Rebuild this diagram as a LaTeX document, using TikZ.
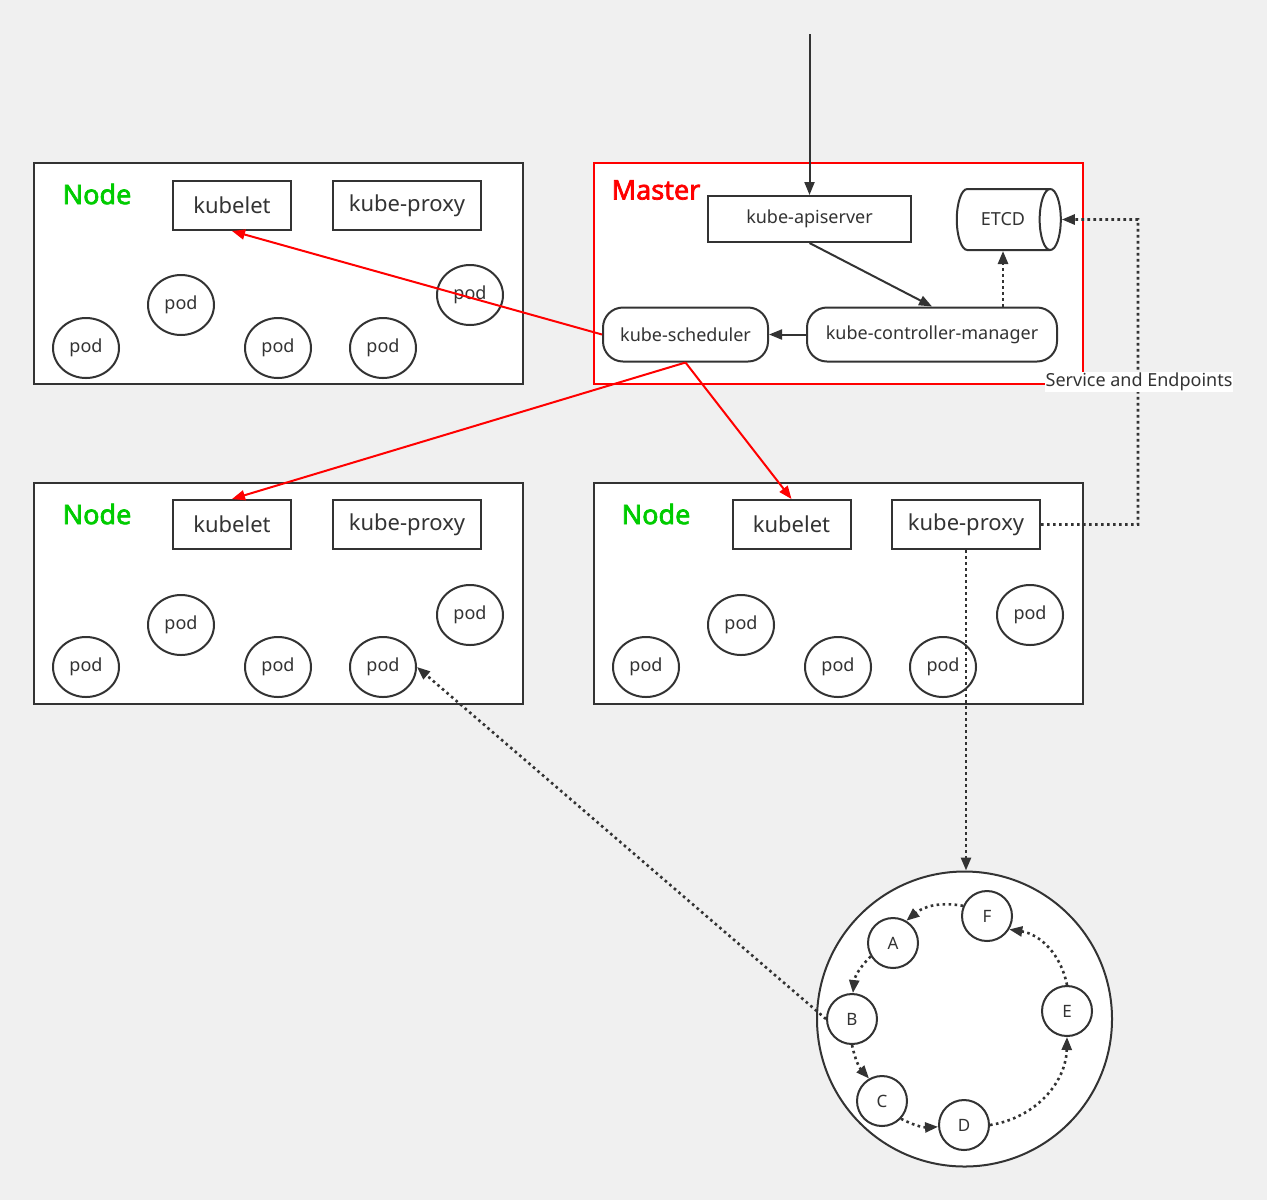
\documentclass[tikz,border=0pt]{standalone}
\usepackage{fontspec}
\setmainfont{Noto Sans}[AutoFakeBold=2.5]
\usetikzlibrary{arrows.meta, shapes.geometric, positioning, calc}
\definecolor{canvasbg}{RGB}{240,240,240}
\definecolor{inkgray}{RGB}{51,51,51}
\definecolor{masterred}{RGB}{255,0,0}
\definecolor{nodegreen}{RGB}{0,204,0}

\begin{document}
\begin{tikzpicture}[
        x=0.5pt, y=-0.5pt,
        frame/.style={draw=inkgray, line width=1pt, fill=white, inner sep=0pt,
                      minimum width=244.5pt, minimum height=110.5pt},
        masterframe/.style={frame, draw=masterred},
        title/.style={font=\bfseries\fontsize{13.5}{15}\selectfont, inner sep=0pt},
        agent/.style={draw=inkgray, line width=1pt, fill=white, inner sep=0pt,
                      text=inkgray, minimum width=59pt, minimum height=24.5pt,
                      font=\fontsize{11}{13}\selectfont},
        proxybox/.style={agent, minimum width=74pt},
        pod/.style={ellipse, draw=inkgray, line width=1pt, fill=white, inner sep=0pt,
                    text=inkgray, minimum width=33pt, minimum height=30pt,
                    font=\fontsize{9}{11}\selectfont},
        ctrl/.style={draw=inkgray, line width=1pt, fill=white, inner sep=0pt,
                     text=inkgray, font=\fontsize{9}{11}\selectfont},
        roundctrl/.style={ctrl, rounded corners=10pt, minimum height=27pt},
        store/.style={ctrl, cylinder, aspect=1.6, minimum width=30.5pt, minimum height=52pt},
        ring/.style={circle, draw=inkgray, line width=1pt, fill=white, inner sep=0pt,
                     minimum size=147.5pt},
        replica/.style={circle, draw=inkgray, line width=1pt, fill=white, inner sep=0pt,
                        text=inkgray, minimum size=25pt, font=\fontsize{8.5}{10}\selectfont},
        arrow/.style={-{Triangle[length=6.5pt,width=5pt]}, line width=1pt, inkgray},
        schedarrow/.style={arrow, masterred},
        dotarrow/.style={arrow, line width=1.3pt, dash pattern=on 1.3pt off 1.7pt},
        edgelabel/.style={fill=white, inner sep=0.5pt, text=inkgray,
                          font=\fontsize{9}{11}\selectfont},
    ]

    % canvas
    \path[fill=canvasbg] (0,0) rectangle (1267,1200);

    % ---------- frames ----------------------------------------------------
    \node[frame]       (nodeA)  at (278.5,273.5) {};
    \node[masterframe] (master) at (838.5,273.5) {};
    \node[frame]       (nodeB)  at (278.5,593.5) {};
    \node[frame]       (nodeC)  at (838.5,593.5) {};

    \node[title, text=nodegreen] (titleA) at (97,194) {Node};
    \node[title, text=masterred] (titleM) at (656,190) {Master};
    \node[title, text=nodegreen] (titleB) at (97,514) {Node};
    \node[title, text=nodegreen] (titleC) at (656,514) {Node};

    % ---------- node agents -----------------------------------------------
    \node[agent]    (kubeletA) at (232,205.5)   {kubelet};
    \node[proxybox] (proxyA)   at (407,205.5)   {kube-proxy};
    \node[agent]    (kubeletB) at (232,524.5)   {kubelet};
    \node[proxybox] (proxyB)   at (407,524.5)   {kube-proxy};
    \node[agent]    (kubeletC) at (791.5,524.5) {kubelet};
    \node[proxybox] (proxyC)   at (966,524.5)   {kube-proxy};

    % ---------- pods ------------------------------------------------------
    \node[pod] (podA1) at (86,348)  {pod};
    \node[pod] (podA2) at (181,305) {pod};
    \node[pod] (podA3) at (278,348) {pod};
    \node[pod] (podA4) at (383,348) {pod};
    \node[pod] (podA5) at (470,295) {pod};

    \node[pod] (podB1) at (86,667)  {pod};
    \node[pod] (podB2) at (181,625) {pod};
    \node[pod] (podB3) at (278,667) {pod};
    \node[pod] (podB4) at (383,667) {pod};
    \node[pod] (podB5) at (470,615) {pod};

    \node[pod] (podC1) at (646,667)  {pod};
    \node[pod] (podC2) at (741,625)  {pod};
    \node[pod] (podC3) at (838,667)  {pod};
    \node[pod] (podC4) at (943,667)  {pod};
    \node[pod] (podC5) at (1030,615) {pod};

    % ---------- master components -----------------------------------------
    \node[ctrl, minimum width=101.5pt, minimum height=23pt] (apiserver) at (809.5,219) {kube-apiserver};
    \node[store] (etcd) at (1003,219.5) {ETCD};
    \node[roundctrl, minimum width=82.5pt] (scheduler)  at (685.5,334.5) {kube-scheduler};
    \node[roundctrl, minimum width=125pt]  (controller) at (932,334.5)   {kube-controller-manager};

    % ---------- service ring ----------------------------------------------
    \node[ring] (ring) at (964.5,1019) {};
    \node[replica] (repA) at (893,943)  {A};
    \node[replica] (repB) at (852,1019) {B};
    \node[replica] (repC) at (882,1101) {C};
    \node[replica] (repD) at (964,1125) {D};
    \node[replica] (repE) at (1067,1011) {E};
    \node[replica] (repF) at (987,916)  {F};

    % ---------- control flow ----------------------------------------------
    \coordinate (client) at (809.5,34);
    \draw[arrow] (client) -- (apiserver.north);
    \draw[arrow] (apiserver.south) -- (controller.north);
    \draw[arrow] (controller.west) -- (scheduler.east);
    \draw[dotarrow] (etcd.south |- controller.north) -- (etcd.south);

    \draw[schedarrow] (scheduler.west)  -- (kubeletA.south);
    \draw[schedarrow] (scheduler.south) -- (kubeletB.north);
    \draw[schedarrow] (scheduler.south) -- (kubeletC.north);

    % ---------- proxy traffic ---------------------------------------------
    \coordinate (svcup) at (1138,219.5);
    \draw[dotarrow] (proxyC.east) -| (svcup) -- (etcd.east);
    \node[edgelabel] (svclabel) at (1139,381.5) {Service and Endpoints};
    \draw[dotarrow] (proxyC.south) -- (proxyC.south |- ring.north);
    \draw[dotarrow] (repB.west) -- (podB4.east);

    \draw[dotarrow] (repF.157) to[bend right=25] (repA.59);
    \draw[dotarrow] (repA.211) to[bend right=20] (repB.88);
    \draw[dotarrow] (repB.270) to[bend right=15] (repC.120);
    \draw[dotarrow] (repC.317) to[bend right=15] (repD.184);
    \draw[dotarrow] (repD.0)   to[bend right=40] (repE.270);
    \draw[dotarrow] (repE.90)  to[bend right=35] (repF.329);

\end{tikzpicture}
\end{document}
